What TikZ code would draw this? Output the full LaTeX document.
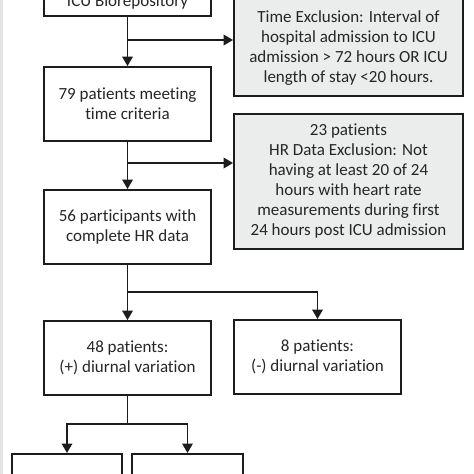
\documentclass[tikz,border=0pt]{standalone}
\usepackage{fontspec}
\setmainfont{Carlito}[Ligatures=NoCommon]
\usetikzlibrary{arrows.meta}
\definecolor{lncol}{HTML}{1C1C1C}
\definecolor{txtcol}{HTML}{262626}
\definecolor{gfill}{HTML}{EBEDED}
\definecolor{stripcol}{HTML}{E4E4E4}
\begin{document}
\begin{tikzpicture}[x=1pt,y=-1pt,
  box/.style={draw=lncol, line width=1.8pt, fill=white, minimum width=167pt, minimum height=74pt, inner sep=0pt, align=center, font=\fontsize{17}{20}\selectfont, text=txtcol},
  gbox/.style={box, fill=gfill, minimum width=229pt},
  lbl/.style={inner sep=0pt, align=center, font=\fontsize{17}{20}\selectfont, text=txtcol},
  wire/.style={draw=lncol, line width=1.8pt},
  arr/.style={wire, -{Triangle[length=9.5pt,width=10.5pt]}}]
\useasboundingbox (0,0) rectangle (474,474);
\clip (0,0) rectangle (474,474);
\fill[white] (0,0) rectangle (474,474);
\fill[stripcol] (0,0) rectangle (2.5,474);
% boxes
\node[box, minimum height=80pt, anchor=south] (a) at (127.5,17) {};
\node[lbl, anchor=base] (at) at (127.5,6.5) {ICU Biorepository};
\node[gbox, minimum height=140pt, anchor=south] (b) at (348.5,97) {};
\node[lbl] (bt) at (348.5,48.5) {Time Exclusion: Interval of\\hospital admission to ICU\\admission > 72 hours OR ICU\\length of stay <20 hours.};
\node[box] (c) at (127.5,104) {79 patients meeting\\time criteria};
\node[gbox, minimum height=135pt] (d) at (348.5,181.5) {23 patients\\HR Data Exclusion: Not\\having at least 20 of 24\\hours with heart rate\\measurements during first\\24 hours post ICU admission};
\node[box] (e) at (127.5,227) {56 participants with\\complete HR data};
\node[box] (f) at (127.5,358) {48 patients:\\(+) diurnal variation};
\node[box] (g) at (317.5,357) {8 patients:\\(-) diurnal variation};
\node[box, minimum width=110pt, minimum height=60pt, anchor=north] (h) at (67,453) {};
\node[box, minimum width=111pt, minimum height=60pt, anchor=north] (i) at (187.5,453) {};
% connectors
\coordinate (j1) at (127.5,40);
\coordinate (j2) at (127.5,163);
\coordinate (j3) at (127.5,292);
\coordinate (j4) at (127.5,424);
\draw[arr] (a.south) -- (c.north);
\draw[arr] (j1) -- (b.west |- j1);
\draw[arr] (c.south) -- (e.north);
\draw[arr] (j2) -- (d.west |- j2);
\draw[arr] (e.south) -- (f.north);
\draw[arr] (j3) -| (g.north);
\draw[wire] (f.south) -- (j4);
\draw[arr] (j4) -| (h.north);
\draw[arr] (j4) -| (i.north);
\end{tikzpicture}
\end{document}
